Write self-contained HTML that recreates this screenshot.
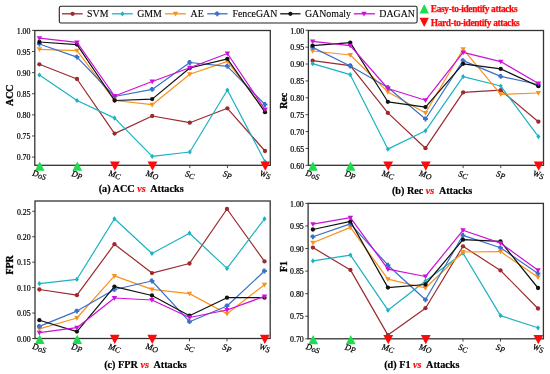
<!DOCTYPE html>
<html><head><meta charset="utf-8"><style>
html,body{margin:0;padding:0;background:#fff;width:550px;height:374px;overflow:hidden}
svg{display:block;will-change:transform}
text{font-family:"Liberation Serif", serif}
</style></head><body>
<svg width="550" height="374" viewBox="0 0 550 374">
<rect width="550" height="374" fill="#fff"/>
<line x1="32" y1="157.1" x2="34.8" y2="157.1" stroke="#333" stroke-width="0.9"/>
<text x="30.5" y="160.35" font-size="7.9" text-anchor="end" fill="#000" stroke="#000" stroke-width="0.2">0.70</text>
<line x1="32" y1="135.98" x2="34.8" y2="135.98" stroke="#333" stroke-width="0.9"/>
<text x="30.5" y="139.23" font-size="7.9" text-anchor="end" fill="#000" stroke="#000" stroke-width="0.2">0.75</text>
<line x1="32" y1="114.86" x2="34.8" y2="114.86" stroke="#333" stroke-width="0.9"/>
<text x="30.5" y="118.11" font-size="7.9" text-anchor="end" fill="#000" stroke="#000" stroke-width="0.2">0.80</text>
<line x1="32" y1="93.74" x2="34.8" y2="93.74" stroke="#333" stroke-width="0.9"/>
<text x="30.5" y="96.99" font-size="7.9" text-anchor="end" fill="#000" stroke="#000" stroke-width="0.2">0.85</text>
<line x1="32" y1="72.62" x2="34.8" y2="72.62" stroke="#333" stroke-width="0.9"/>
<text x="30.5" y="75.87" font-size="7.9" text-anchor="end" fill="#000" stroke="#000" stroke-width="0.2">0.90</text>
<line x1="32" y1="51.5" x2="34.8" y2="51.5" stroke="#333" stroke-width="0.9"/>
<text x="30.5" y="54.75" font-size="7.9" text-anchor="end" fill="#000" stroke="#000" stroke-width="0.2">0.95</text>
<line x1="32" y1="30.38" x2="34.8" y2="30.38" stroke="#333" stroke-width="0.9"/>
<text x="30.5" y="33.63" font-size="7.9" text-anchor="end" fill="#000" stroke="#000" stroke-width="0.2">1.00</text>
<line x1="39.4" y1="165.3" x2="39.4" y2="168.1" stroke="#333" stroke-width="0.9"/>
<line x1="77" y1="165.3" x2="77" y2="168.1" stroke="#333" stroke-width="0.9"/>
<line x1="114.6" y1="165.3" x2="114.6" y2="168.1" stroke="#333" stroke-width="0.9"/>
<line x1="152.2" y1="165.3" x2="152.2" y2="168.1" stroke="#333" stroke-width="0.9"/>
<line x1="189.8" y1="165.3" x2="189.8" y2="168.1" stroke="#333" stroke-width="0.9"/>
<line x1="227.4" y1="165.3" x2="227.4" y2="168.1" stroke="#333" stroke-width="0.9"/>
<line x1="265" y1="165.3" x2="265" y2="168.1" stroke="#333" stroke-width="0.9"/>
<polyline points="39.4,64.3 77,79 114.6,133.6 152.2,116 189.8,122.7 227.4,108.3 265,151" fill="none" stroke="#9c2a2e" stroke-width="1.2" stroke-linejoin="round"/>
<circle cx="39.4" cy="64.3" r="2.15" fill="#9c2a2e"/>
<circle cx="77" cy="79" r="2.15" fill="#9c2a2e"/>
<circle cx="114.6" cy="133.6" r="2.15" fill="#9c2a2e"/>
<circle cx="152.2" cy="116" r="2.15" fill="#9c2a2e"/>
<circle cx="189.8" cy="122.7" r="2.15" fill="#9c2a2e"/>
<circle cx="227.4" cy="108.3" r="2.15" fill="#9c2a2e"/>
<circle cx="265" cy="151" r="2.15" fill="#9c2a2e"/>
<polyline points="39.4,75 77,100.5 114.6,118.1 152.2,156.3 189.8,152 227.4,90 265,161.5" fill="none" stroke="#1cb2c2" stroke-width="1.2" stroke-linejoin="round"/>
<path d="M39.4 72.4L41.4 75L39.4 77.6L37.4 75Z" fill="#1cb2c2"/>
<path d="M77 97.9L79 100.5L77 103.1L75 100.5Z" fill="#1cb2c2"/>
<path d="M114.6 115.5L116.6 118.1L114.6 120.7L112.6 118.1Z" fill="#1cb2c2"/>
<path d="M152.2 153.7L154.2 156.3L152.2 158.9L150.2 156.3Z" fill="#1cb2c2"/>
<path d="M189.8 149.4L191.8 152L189.8 154.6L187.8 152Z" fill="#1cb2c2"/>
<path d="M227.4 87.4L229.4 90L227.4 92.6L225.4 90Z" fill="#1cb2c2"/>
<path d="M265 158.9L267 161.5L265 164.1L263 161.5Z" fill="#1cb2c2"/>
<polyline points="39.4,49.3 77,50.6 114.6,100.5 152.2,104.7 189.8,74.3 227.4,61.4 265,110.5" fill="none" stroke="#f8921e" stroke-width="1.2" stroke-linejoin="round"/>
<path d="M36.7 47.35L42.1 47.35L39.4 52.03Z" fill="#f8921e"/>
<path d="M74.3 48.65L79.7 48.65L77 53.33Z" fill="#f8921e"/>
<path d="M111.9 98.55L117.3 98.55L114.6 103.23Z" fill="#f8921e"/>
<path d="M149.5 102.75L154.9 102.75L152.2 107.43Z" fill="#f8921e"/>
<path d="M187.1 72.35L192.5 72.35L189.8 77.03Z" fill="#f8921e"/>
<path d="M224.7 59.45L230.1 59.45L227.4 64.13Z" fill="#f8921e"/>
<path d="M262.3 108.55L267.7 108.55L265 113.23Z" fill="#f8921e"/>
<polyline points="39.4,44 77,57.1 114.6,96.5 152.2,89.4 189.8,62.5 227.4,66.3 265,104.5" fill="none" stroke="#3a70c8" stroke-width="1.2" stroke-linejoin="round"/>
<path d="M38.4 41.6H40.4V43H41.8V45H40.4V46.4H38.4V45H37V43Z" fill="#3a70c8"/>
<path d="M76 54.7H78V56.1H79.4V58.1H78V59.5H76V58.1H74.6V56.1Z" fill="#3a70c8"/>
<path d="M113.6 94.1H115.6V95.5H117V97.5H115.6V98.9H113.6V97.5H112.2V95.5Z" fill="#3a70c8"/>
<path d="M151.2 87H153.2V88.4H154.6V90.4H153.2V91.8H151.2V90.4H149.8V88.4Z" fill="#3a70c8"/>
<path d="M188.8 60.1H190.8V61.5H192.2V63.5H190.8V64.9H188.8V63.5H187.4V61.5Z" fill="#3a70c8"/>
<path d="M226.4 63.9H228.4V65.3H229.8V67.3H228.4V68.7H226.4V67.3H225V65.3Z" fill="#3a70c8"/>
<path d="M264 102.1H266V103.5H267.4V105.5H266V106.9H264V105.5H262.6V103.5Z" fill="#3a70c8"/>
<polyline points="39.4,42 77,44.6 114.6,100.5 152.2,99.1 189.8,68 227.4,58.8 265,112.2" fill="none" stroke="#111111" stroke-width="1.2" stroke-linejoin="round"/>
<circle cx="39.4" cy="42" r="2.15" fill="#111111"/>
<circle cx="77" cy="44.6" r="2.15" fill="#111111"/>
<circle cx="114.6" cy="100.5" r="2.15" fill="#111111"/>
<circle cx="152.2" cy="99.1" r="2.15" fill="#111111"/>
<circle cx="189.8" cy="68" r="2.15" fill="#111111"/>
<circle cx="227.4" cy="58.8" r="2.15" fill="#111111"/>
<circle cx="265" cy="112.2" r="2.15" fill="#111111"/>
<polyline points="39.4,38.2 77,42.4 114.6,96 152.2,81.5 189.8,67.8 227.4,53.5 265,109.5" fill="none" stroke="#cc10d8" stroke-width="1.2" stroke-linejoin="round"/>
<path d="M36.7 36.25L42.1 36.25L39.4 40.93Z" fill="#cc10d8"/>
<path d="M74.3 40.45L79.7 40.45L77 45.13Z" fill="#cc10d8"/>
<path d="M111.9 94.05L117.3 94.05L114.6 98.73Z" fill="#cc10d8"/>
<path d="M149.5 79.55L154.9 79.55L152.2 84.23Z" fill="#cc10d8"/>
<path d="M187.1 65.85L192.5 65.85L189.8 70.53Z" fill="#cc10d8"/>
<path d="M224.7 51.55L230.1 51.55L227.4 56.23Z" fill="#cc10d8"/>
<path d="M262.3 107.55L267.7 107.55L265 112.23Z" fill="#cc10d8"/>
<rect x="34.8" y="30.5" width="235.5" height="134.8" fill="none" stroke="#333" stroke-width="1.3"/>
<path d="M39.7 161.55L44.6 170.85L34.8 170.85Z" fill="#1cdc50"/>
<path d="M77.3 161.55L82.2 170.85L72.4 170.85Z" fill="#1cdc50"/>
<path d="M110 161.55L119.8 161.55L114.9 170.85Z" fill="#ff0a0a"/>
<path d="M147.6 161.55L157.4 161.55L152.5 170.85Z" fill="#ff0a0a"/>
<path d="M260.4 161.55L270.2 161.55L265.3 170.85Z" fill="#ff0a0a"/>
<text transform="translate(38.9 177.1) rotate(13)" font-size="8.4" font-style="italic" text-anchor="middle" fill="#000" stroke="#000" stroke-width="0.2">D<tspan font-size="7.9" dy="1.2">oS</tspan></text>
<text transform="translate(76.5 177.1) rotate(13)" font-size="8.4" font-style="italic" text-anchor="middle" fill="#000" stroke="#000" stroke-width="0.2">D<tspan font-size="7.9" dy="1.2">P</tspan></text>
<text transform="translate(114.1 177.1) rotate(13)" font-size="8.4" font-style="italic" text-anchor="middle" fill="#000" stroke="#000" stroke-width="0.2">M<tspan font-size="7.9" dy="1.2">C</tspan></text>
<text transform="translate(151.7 177.1) rotate(13)" font-size="8.4" font-style="italic" text-anchor="middle" fill="#000" stroke="#000" stroke-width="0.2">M<tspan font-size="7.9" dy="1.2">O</tspan></text>
<text transform="translate(189.3 177.1) rotate(13)" font-size="8.4" font-style="italic" text-anchor="middle" fill="#000" stroke="#000" stroke-width="0.2">S<tspan font-size="7.9" dy="1.2">C</tspan></text>
<text transform="translate(226.9 177.1) rotate(13)" font-size="8.4" font-style="italic" text-anchor="middle" fill="#000" stroke="#000" stroke-width="0.2">S<tspan font-size="7.9" dy="1.2">P</tspan></text>
<text transform="translate(264.5 177.1) rotate(13)" font-size="8.4" font-style="italic" text-anchor="middle" fill="#000" stroke="#000" stroke-width="0.2">W<tspan font-size="7.9" dy="1.2">S</tspan></text>
<text transform="translate(13.2 95.2) rotate(-90)" font-size="9.9" font-weight="bold" text-anchor="middle" fill="#000" stroke="#000" stroke-width="0.3">ACC</text>
<text x="98.7" y="191.6" font-size="10.2" font-weight="bold" fill="#000" stroke="#000" stroke-width="0.2" xml:space="preserve">(a) ACC <tspan fill="#ff0a0a" stroke="#ff0a0a" font-style="italic">vs</tspan>  <tspan>Attacks</tspan></text>
<line x1="305.6" y1="165.3" x2="308.4" y2="165.3" stroke="#333" stroke-width="0.9"/>
<text x="304.1" y="168.55" font-size="7.9" text-anchor="end" fill="#000" stroke="#000" stroke-width="0.2">0.60</text>
<line x1="305.6" y1="148.43" x2="308.4" y2="148.43" stroke="#333" stroke-width="0.9"/>
<text x="304.1" y="151.68" font-size="7.9" text-anchor="end" fill="#000" stroke="#000" stroke-width="0.2">0.65</text>
<line x1="305.6" y1="131.55" x2="308.4" y2="131.55" stroke="#333" stroke-width="0.9"/>
<text x="304.1" y="134.8" font-size="7.9" text-anchor="end" fill="#000" stroke="#000" stroke-width="0.2">0.70</text>
<line x1="305.6" y1="114.68" x2="308.4" y2="114.68" stroke="#333" stroke-width="0.9"/>
<text x="304.1" y="117.93" font-size="7.9" text-anchor="end" fill="#000" stroke="#000" stroke-width="0.2">0.75</text>
<line x1="305.6" y1="97.8" x2="308.4" y2="97.8" stroke="#333" stroke-width="0.9"/>
<text x="304.1" y="101.05" font-size="7.9" text-anchor="end" fill="#000" stroke="#000" stroke-width="0.2">0.80</text>
<line x1="305.6" y1="80.93" x2="308.4" y2="80.93" stroke="#333" stroke-width="0.9"/>
<text x="304.1" y="84.18" font-size="7.9" text-anchor="end" fill="#000" stroke="#000" stroke-width="0.2">0.85</text>
<line x1="305.6" y1="64.05" x2="308.4" y2="64.05" stroke="#333" stroke-width="0.9"/>
<text x="304.1" y="67.3" font-size="7.9" text-anchor="end" fill="#000" stroke="#000" stroke-width="0.2">0.90</text>
<line x1="305.6" y1="47.18" x2="308.4" y2="47.18" stroke="#333" stroke-width="0.9"/>
<text x="304.1" y="50.43" font-size="7.9" text-anchor="end" fill="#000" stroke="#000" stroke-width="0.2">0.95</text>
<line x1="305.6" y1="30.3" x2="308.4" y2="30.3" stroke="#333" stroke-width="0.9"/>
<text x="304.1" y="33.55" font-size="7.9" text-anchor="end" fill="#000" stroke="#000" stroke-width="0.2">1.00</text>
<line x1="312.6" y1="165.3" x2="312.6" y2="168.1" stroke="#333" stroke-width="0.9"/>
<line x1="350.23" y1="165.3" x2="350.23" y2="168.1" stroke="#333" stroke-width="0.9"/>
<line x1="387.86" y1="165.3" x2="387.86" y2="168.1" stroke="#333" stroke-width="0.9"/>
<line x1="425.49" y1="165.3" x2="425.49" y2="168.1" stroke="#333" stroke-width="0.9"/>
<line x1="463.12" y1="165.3" x2="463.12" y2="168.1" stroke="#333" stroke-width="0.9"/>
<line x1="500.75" y1="165.3" x2="500.75" y2="168.1" stroke="#333" stroke-width="0.9"/>
<line x1="538.38" y1="165.3" x2="538.38" y2="168.1" stroke="#333" stroke-width="0.9"/>
<polyline points="312.6,60.7 350.23,65.7 387.86,112.9 425.49,148.2 463.12,92.4 500.75,90.2 538.38,121.7" fill="none" stroke="#9c2a2e" stroke-width="1.2" stroke-linejoin="round"/>
<circle cx="312.6" cy="60.7" r="2.15" fill="#9c2a2e"/>
<circle cx="350.23" cy="65.7" r="2.15" fill="#9c2a2e"/>
<circle cx="387.86" cy="112.9" r="2.15" fill="#9c2a2e"/>
<circle cx="425.49" cy="148.2" r="2.15" fill="#9c2a2e"/>
<circle cx="463.12" cy="92.4" r="2.15" fill="#9c2a2e"/>
<circle cx="500.75" cy="90.2" r="2.15" fill="#9c2a2e"/>
<circle cx="538.38" cy="121.7" r="2.15" fill="#9c2a2e"/>
<polyline points="312.6,63.7 350.23,74.7 387.86,149.1 425.49,130.8 463.12,76.6 500.75,86 538.38,136.6" fill="none" stroke="#1cb2c2" stroke-width="1.2" stroke-linejoin="round"/>
<path d="M312.6 61.1L314.6 63.7L312.6 66.3L310.6 63.7Z" fill="#1cb2c2"/>
<path d="M350.23 72.1L352.23 74.7L350.23 77.3L348.23 74.7Z" fill="#1cb2c2"/>
<path d="M387.86 146.5L389.86 149.1L387.86 151.7L385.86 149.1Z" fill="#1cb2c2"/>
<path d="M425.49 128.2L427.49 130.8L425.49 133.4L423.49 130.8Z" fill="#1cb2c2"/>
<path d="M463.12 74L465.12 76.6L463.12 79.2L461.12 76.6Z" fill="#1cb2c2"/>
<path d="M500.75 83.4L502.75 86L500.75 88.6L498.75 86Z" fill="#1cb2c2"/>
<path d="M538.38 134L540.38 136.6L538.38 139.2L536.38 136.6Z" fill="#1cb2c2"/>
<polyline points="312.6,51 350.23,55 387.86,91.9 425.49,113 463.12,49.2 500.75,94.3 538.38,93" fill="none" stroke="#f8921e" stroke-width="1.2" stroke-linejoin="round"/>
<path d="M309.9 49.05L315.3 49.05L312.6 53.73Z" fill="#f8921e"/>
<path d="M347.53 53.05L352.93 53.05L350.23 57.73Z" fill="#f8921e"/>
<path d="M385.16 89.95L390.56 89.95L387.86 94.63Z" fill="#f8921e"/>
<path d="M422.79 111.05L428.19 111.05L425.49 115.73Z" fill="#f8921e"/>
<path d="M460.42 47.25L465.82 47.25L463.12 51.93Z" fill="#f8921e"/>
<path d="M498.05 92.35L503.45 92.35L500.75 97.03Z" fill="#f8921e"/>
<path d="M535.68 91.05L541.08 91.05L538.38 95.73Z" fill="#f8921e"/>
<polyline points="312.6,47.4 350.23,66 387.86,87.5 425.49,119 463.12,60.6 500.75,76.4 538.38,84.5" fill="none" stroke="#3a70c8" stroke-width="1.2" stroke-linejoin="round"/>
<path d="M311.6 45H313.6V46.4H315V48.4H313.6V49.8H311.6V48.4H310.2V46.4Z" fill="#3a70c8"/>
<path d="M349.23 63.6H351.23V65H352.63V67H351.23V68.4H349.23V67H347.83V65Z" fill="#3a70c8"/>
<path d="M386.86 85.1H388.86V86.5H390.26V88.5H388.86V89.9H386.86V88.5H385.46V86.5Z" fill="#3a70c8"/>
<path d="M424.49 116.6H426.49V118H427.89V120H426.49V121.4H424.49V120H423.09V118Z" fill="#3a70c8"/>
<path d="M462.12 58.2H464.12V59.6H465.52V61.6H464.12V63H462.12V61.6H460.72V59.6Z" fill="#3a70c8"/>
<path d="M499.75 74H501.75V75.4H503.15V77.4H501.75V78.8H499.75V77.4H498.35V75.4Z" fill="#3a70c8"/>
<path d="M537.38 82.1H539.38V83.5H540.78V85.5H539.38V86.9H537.38V85.5H535.98V83.5Z" fill="#3a70c8"/>
<polyline points="312.6,45.6 350.23,42.6 387.86,101.8 425.49,107.1 463.12,63.8 500.75,68.9 538.38,86.2" fill="none" stroke="#111111" stroke-width="1.2" stroke-linejoin="round"/>
<circle cx="312.6" cy="45.6" r="2.15" fill="#111111"/>
<circle cx="350.23" cy="42.6" r="2.15" fill="#111111"/>
<circle cx="387.86" cy="101.8" r="2.15" fill="#111111"/>
<circle cx="425.49" cy="107.1" r="2.15" fill="#111111"/>
<circle cx="463.12" cy="63.8" r="2.15" fill="#111111"/>
<circle cx="500.75" cy="68.9" r="2.15" fill="#111111"/>
<circle cx="538.38" cy="86.2" r="2.15" fill="#111111"/>
<polyline points="312.6,41.4 350.23,45.6 387.86,88.5 425.49,100.3 463.12,52.4 500.75,61.6 538.38,83.4" fill="none" stroke="#cc10d8" stroke-width="1.2" stroke-linejoin="round"/>
<path d="M309.9 39.45L315.3 39.45L312.6 44.13Z" fill="#cc10d8"/>
<path d="M347.53 43.65L352.93 43.65L350.23 48.33Z" fill="#cc10d8"/>
<path d="M385.16 86.55L390.56 86.55L387.86 91.23Z" fill="#cc10d8"/>
<path d="M422.79 98.35L428.19 98.35L425.49 103.03Z" fill="#cc10d8"/>
<path d="M460.42 50.45L465.82 50.45L463.12 55.13Z" fill="#cc10d8"/>
<path d="M498.05 59.65L503.45 59.65L500.75 64.33Z" fill="#cc10d8"/>
<path d="M535.68 81.45L541.08 81.45L538.38 86.13Z" fill="#cc10d8"/>
<rect x="308.4" y="30.5" width="235.1" height="134.8" fill="none" stroke="#333" stroke-width="1.3"/>
<path d="M312.9 161.55L317.8 170.85L308 170.85Z" fill="#1cdc50"/>
<path d="M350.53 161.55L355.43 170.85L345.63 170.85Z" fill="#1cdc50"/>
<path d="M383.26 161.55L393.06 161.55L388.16 170.85Z" fill="#ff0a0a"/>
<path d="M420.89 161.55L430.69 161.55L425.79 170.85Z" fill="#ff0a0a"/>
<path d="M533.78 161.55L543.58 161.55L538.68 170.85Z" fill="#ff0a0a"/>
<text transform="translate(312.1 177.1) rotate(13)" font-size="8.4" font-style="italic" text-anchor="middle" fill="#000" stroke="#000" stroke-width="0.2">D<tspan font-size="7.9" dy="1.2">oS</tspan></text>
<text transform="translate(349.73 177.1) rotate(13)" font-size="8.4" font-style="italic" text-anchor="middle" fill="#000" stroke="#000" stroke-width="0.2">D<tspan font-size="7.9" dy="1.2">P</tspan></text>
<text transform="translate(387.36 177.1) rotate(13)" font-size="8.4" font-style="italic" text-anchor="middle" fill="#000" stroke="#000" stroke-width="0.2">M<tspan font-size="7.9" dy="1.2">C</tspan></text>
<text transform="translate(424.99 177.1) rotate(13)" font-size="8.4" font-style="italic" text-anchor="middle" fill="#000" stroke="#000" stroke-width="0.2">M<tspan font-size="7.9" dy="1.2">O</tspan></text>
<text transform="translate(462.62 177.1) rotate(13)" font-size="8.4" font-style="italic" text-anchor="middle" fill="#000" stroke="#000" stroke-width="0.2">S<tspan font-size="7.9" dy="1.2">C</tspan></text>
<text transform="translate(500.25 177.1) rotate(13)" font-size="8.4" font-style="italic" text-anchor="middle" fill="#000" stroke="#000" stroke-width="0.2">S<tspan font-size="7.9" dy="1.2">P</tspan></text>
<text transform="translate(537.88 177.1) rotate(13)" font-size="8.4" font-style="italic" text-anchor="middle" fill="#000" stroke="#000" stroke-width="0.2">W<tspan font-size="7.9" dy="1.2">S</tspan></text>
<text transform="translate(286.9 100.8) rotate(-90)" font-size="9.9" font-weight="bold" text-anchor="middle" fill="#000" stroke="#000" stroke-width="0.3">Rec</text>
<text x="391.9" y="193.5" font-size="10.2" font-weight="bold" fill="#000" stroke="#000" stroke-width="0.2" xml:space="preserve">(b) Rec <tspan fill="#ff0a0a" stroke="#ff0a0a" font-style="italic">vs</tspan>  <tspan>Attacks</tspan></text>
<line x1="32.2" y1="338.5" x2="35" y2="338.5" stroke="#333" stroke-width="0.9"/>
<text x="30.7" y="341.75" font-size="7.9" text-anchor="end" fill="#000" stroke="#000" stroke-width="0.2">0.00</text>
<line x1="32.2" y1="313.06" x2="35" y2="313.06" stroke="#333" stroke-width="0.9"/>
<text x="30.7" y="316.31" font-size="7.9" text-anchor="end" fill="#000" stroke="#000" stroke-width="0.2">0.05</text>
<line x1="32.2" y1="287.62" x2="35" y2="287.62" stroke="#333" stroke-width="0.9"/>
<text x="30.7" y="290.87" font-size="7.9" text-anchor="end" fill="#000" stroke="#000" stroke-width="0.2">0.10</text>
<line x1="32.2" y1="262.18" x2="35" y2="262.18" stroke="#333" stroke-width="0.9"/>
<text x="30.7" y="265.43" font-size="7.9" text-anchor="end" fill="#000" stroke="#000" stroke-width="0.2">0.15</text>
<line x1="32.2" y1="236.74" x2="35" y2="236.74" stroke="#333" stroke-width="0.9"/>
<text x="30.7" y="239.99" font-size="7.9" text-anchor="end" fill="#000" stroke="#000" stroke-width="0.2">0.20</text>
<line x1="32.2" y1="211.3" x2="35" y2="211.3" stroke="#333" stroke-width="0.9"/>
<text x="30.7" y="214.55" font-size="7.9" text-anchor="end" fill="#000" stroke="#000" stroke-width="0.2">0.25</text>
<line x1="39.4" y1="338.5" x2="39.4" y2="341.3" stroke="#333" stroke-width="0.9"/>
<line x1="76.92" y1="338.5" x2="76.92" y2="341.3" stroke="#333" stroke-width="0.9"/>
<line x1="114.44" y1="338.5" x2="114.44" y2="341.3" stroke="#333" stroke-width="0.9"/>
<line x1="151.96" y1="338.5" x2="151.96" y2="341.3" stroke="#333" stroke-width="0.9"/>
<line x1="189.48" y1="338.5" x2="189.48" y2="341.3" stroke="#333" stroke-width="0.9"/>
<line x1="227" y1="338.5" x2="227" y2="341.3" stroke="#333" stroke-width="0.9"/>
<line x1="264.52" y1="338.5" x2="264.52" y2="341.3" stroke="#333" stroke-width="0.9"/>
<polyline points="39.4,289.5 76.92,295.2 114.44,244.2 151.96,273.1 189.48,263.5 227,209 264.52,261.4" fill="none" stroke="#9c2a2e" stroke-width="1.2" stroke-linejoin="round"/>
<circle cx="39.4" cy="289.5" r="2.15" fill="#9c2a2e"/>
<circle cx="76.92" cy="295.2" r="2.15" fill="#9c2a2e"/>
<circle cx="114.44" cy="244.2" r="2.15" fill="#9c2a2e"/>
<circle cx="151.96" cy="273.1" r="2.15" fill="#9c2a2e"/>
<circle cx="189.48" cy="263.5" r="2.15" fill="#9c2a2e"/>
<circle cx="227" cy="209" r="2.15" fill="#9c2a2e"/>
<circle cx="264.52" cy="261.4" r="2.15" fill="#9c2a2e"/>
<polyline points="39.4,283.6 76.92,279.3 114.44,218.8 151.96,253.5 189.48,233.2 227,268.4 264.52,218.8" fill="none" stroke="#1cb2c2" stroke-width="1.2" stroke-linejoin="round"/>
<path d="M39.4 281L41.4 283.6L39.4 286.2L37.4 283.6Z" fill="#1cb2c2"/>
<path d="M76.92 276.7L78.92 279.3L76.92 281.9L74.92 279.3Z" fill="#1cb2c2"/>
<path d="M114.44 216.2L116.44 218.8L114.44 221.4L112.44 218.8Z" fill="#1cb2c2"/>
<path d="M151.96 250.9L153.96 253.5L151.96 256.1L149.96 253.5Z" fill="#1cb2c2"/>
<path d="M189.48 230.6L191.48 233.2L189.48 235.8L187.48 233.2Z" fill="#1cb2c2"/>
<path d="M227 265.8L229 268.4L227 271L225 268.4Z" fill="#1cb2c2"/>
<path d="M264.52 216.2L266.52 218.8L264.52 221.4L262.52 218.8Z" fill="#1cb2c2"/>
<polyline points="39.4,328.9 76.92,318 114.44,275.9 151.96,289.4 189.48,293.6 227,313.8 264.52,284.7" fill="none" stroke="#f8921e" stroke-width="1.2" stroke-linejoin="round"/>
<path d="M36.7 326.95L42.1 326.95L39.4 331.63Z" fill="#f8921e"/>
<path d="M74.22 316.05L79.62 316.05L76.92 320.73Z" fill="#f8921e"/>
<path d="M111.74 273.95L117.14 273.95L114.44 278.63Z" fill="#f8921e"/>
<path d="M149.26 287.45L154.66 287.45L151.96 292.13Z" fill="#f8921e"/>
<path d="M186.78 291.65L192.18 291.65L189.48 296.33Z" fill="#f8921e"/>
<path d="M224.3 311.85L229.7 311.85L227 316.53Z" fill="#f8921e"/>
<path d="M261.82 282.75L267.22 282.75L264.52 287.43Z" fill="#f8921e"/>
<polyline points="39.4,326.4 76.92,311.1 114.44,289.5 151.96,281 189.48,321.7 227,306 264.52,271" fill="none" stroke="#3a70c8" stroke-width="1.2" stroke-linejoin="round"/>
<path d="M38.4 324H40.4V325.4H41.8V327.4H40.4V328.8H38.4V327.4H37V325.4Z" fill="#3a70c8"/>
<path d="M75.92 308.7H77.92V310.1H79.32V312.1H77.92V313.5H75.92V312.1H74.52V310.1Z" fill="#3a70c8"/>
<path d="M113.44 287.1H115.44V288.5H116.84V290.5H115.44V291.9H113.44V290.5H112.04V288.5Z" fill="#3a70c8"/>
<path d="M150.96 278.6H152.96V280H154.36V282H152.96V283.4H150.96V282H149.56V280Z" fill="#3a70c8"/>
<path d="M188.48 319.3H190.48V320.7H191.88V322.7H190.48V324.1H188.48V322.7H187.08V320.7Z" fill="#3a70c8"/>
<path d="M226 303.6H228V305H229.4V307H228V308.4H226V307H224.6V305Z" fill="#3a70c8"/>
<path d="M263.52 268.6H265.52V270H266.92V272H265.52V273.4H263.52V272H262.12V270Z" fill="#3a70c8"/>
<polyline points="39.4,320.2 76.92,331.6 114.44,286.6 151.96,295.5 189.48,315.7 227,297.7 264.52,297.7" fill="none" stroke="#111111" stroke-width="1.2" stroke-linejoin="round"/>
<circle cx="39.4" cy="320.2" r="2.15" fill="#111111"/>
<circle cx="76.92" cy="331.6" r="2.15" fill="#111111"/>
<circle cx="114.44" cy="286.6" r="2.15" fill="#111111"/>
<circle cx="151.96" cy="295.5" r="2.15" fill="#111111"/>
<circle cx="189.48" cy="315.7" r="2.15" fill="#111111"/>
<circle cx="227" cy="297.7" r="2.15" fill="#111111"/>
<circle cx="264.52" cy="297.7" r="2.15" fill="#111111"/>
<polyline points="39.4,332.7 76.92,327.7 114.44,298 151.96,300 189.48,317.5 227,310 264.52,296.4" fill="none" stroke="#cc10d8" stroke-width="1.2" stroke-linejoin="round"/>
<path d="M36.7 330.75L42.1 330.75L39.4 335.43Z" fill="#cc10d8"/>
<path d="M74.22 325.75L79.62 325.75L76.92 330.43Z" fill="#cc10d8"/>
<path d="M111.74 296.05L117.14 296.05L114.44 300.73Z" fill="#cc10d8"/>
<path d="M149.26 298.05L154.66 298.05L151.96 302.73Z" fill="#cc10d8"/>
<path d="M186.78 315.55L192.18 315.55L189.48 320.23Z" fill="#cc10d8"/>
<path d="M224.3 308.05L229.7 308.05L227 312.73Z" fill="#cc10d8"/>
<path d="M261.82 294.45L267.22 294.45L264.52 299.13Z" fill="#cc10d8"/>
<rect x="35" y="201" width="235.2" height="137.5" fill="none" stroke="#333" stroke-width="1.3"/>
<path d="M39.7 334.75L44.6 344.05L34.8 344.05Z" fill="#1cdc50"/>
<path d="M77.22 334.75L82.12 344.05L72.32 344.05Z" fill="#1cdc50"/>
<path d="M109.84 334.75L119.64 334.75L114.74 344.05Z" fill="#ff0a0a"/>
<path d="M147.36 334.75L157.16 334.75L152.26 344.05Z" fill="#ff0a0a"/>
<path d="M259.92 334.75L269.72 334.75L264.82 344.05Z" fill="#ff0a0a"/>
<text transform="translate(38.9 350.3) rotate(13)" font-size="8.4" font-style="italic" text-anchor="middle" fill="#000" stroke="#000" stroke-width="0.2">D<tspan font-size="7.9" dy="1.2">oS</tspan></text>
<text transform="translate(76.42 350.3) rotate(13)" font-size="8.4" font-style="italic" text-anchor="middle" fill="#000" stroke="#000" stroke-width="0.2">D<tspan font-size="7.9" dy="1.2">P</tspan></text>
<text transform="translate(113.94 350.3) rotate(13)" font-size="8.4" font-style="italic" text-anchor="middle" fill="#000" stroke="#000" stroke-width="0.2">M<tspan font-size="7.9" dy="1.2">C</tspan></text>
<text transform="translate(151.46 350.3) rotate(13)" font-size="8.4" font-style="italic" text-anchor="middle" fill="#000" stroke="#000" stroke-width="0.2">M<tspan font-size="7.9" dy="1.2">O</tspan></text>
<text transform="translate(188.98 350.3) rotate(13)" font-size="8.4" font-style="italic" text-anchor="middle" fill="#000" stroke="#000" stroke-width="0.2">S<tspan font-size="7.9" dy="1.2">C</tspan></text>
<text transform="translate(226.5 350.3) rotate(13)" font-size="8.4" font-style="italic" text-anchor="middle" fill="#000" stroke="#000" stroke-width="0.2">S<tspan font-size="7.9" dy="1.2">P</tspan></text>
<text transform="translate(264.02 350.3) rotate(13)" font-size="8.4" font-style="italic" text-anchor="middle" fill="#000" stroke="#000" stroke-width="0.2">W<tspan font-size="7.9" dy="1.2">S</tspan></text>
<text transform="translate(12.7 265) rotate(-90)" font-size="9.9" font-weight="bold" text-anchor="middle" fill="#000" stroke="#000" stroke-width="0.3">FPR</text>
<text x="104.2" y="368.3" font-size="10.2" font-weight="bold" fill="#000" stroke="#000" stroke-width="0.2" xml:space="preserve">(c) FPR <tspan fill="#ff0a0a" stroke="#ff0a0a" font-style="italic">vs</tspan>  <tspan>Attacks</tspan></text>
<line x1="305.3" y1="338.8" x2="308.1" y2="338.8" stroke="#333" stroke-width="0.9"/>
<text x="303.8" y="342.05" font-size="7.9" text-anchor="end" fill="#000" stroke="#000" stroke-width="0.2">0.70</text>
<line x1="305.3" y1="316.23" x2="308.1" y2="316.23" stroke="#333" stroke-width="0.9"/>
<text x="303.8" y="319.48" font-size="7.9" text-anchor="end" fill="#000" stroke="#000" stroke-width="0.2">0.75</text>
<line x1="305.3" y1="293.66" x2="308.1" y2="293.66" stroke="#333" stroke-width="0.9"/>
<text x="303.8" y="296.91" font-size="7.9" text-anchor="end" fill="#000" stroke="#000" stroke-width="0.2">0.80</text>
<line x1="305.3" y1="271.09" x2="308.1" y2="271.09" stroke="#333" stroke-width="0.9"/>
<text x="303.8" y="274.34" font-size="7.9" text-anchor="end" fill="#000" stroke="#000" stroke-width="0.2">0.85</text>
<line x1="305.3" y1="248.52" x2="308.1" y2="248.52" stroke="#333" stroke-width="0.9"/>
<text x="303.8" y="251.77" font-size="7.9" text-anchor="end" fill="#000" stroke="#000" stroke-width="0.2">0.90</text>
<line x1="305.3" y1="225.95" x2="308.1" y2="225.95" stroke="#333" stroke-width="0.9"/>
<text x="303.8" y="229.2" font-size="7.9" text-anchor="end" fill="#000" stroke="#000" stroke-width="0.2">0.95</text>
<line x1="305.3" y1="203.38" x2="308.1" y2="203.38" stroke="#333" stroke-width="0.9"/>
<text x="303.8" y="206.63" font-size="7.9" text-anchor="end" fill="#000" stroke="#000" stroke-width="0.2">1.00</text>
<line x1="312.9" y1="338.8" x2="312.9" y2="341.6" stroke="#333" stroke-width="0.9"/>
<line x1="350.42" y1="338.8" x2="350.42" y2="341.6" stroke="#333" stroke-width="0.9"/>
<line x1="387.94" y1="338.8" x2="387.94" y2="341.6" stroke="#333" stroke-width="0.9"/>
<line x1="425.46" y1="338.8" x2="425.46" y2="341.6" stroke="#333" stroke-width="0.9"/>
<line x1="462.98" y1="338.8" x2="462.98" y2="341.6" stroke="#333" stroke-width="0.9"/>
<line x1="500.5" y1="338.8" x2="500.5" y2="341.6" stroke="#333" stroke-width="0.9"/>
<line x1="538.02" y1="338.8" x2="538.02" y2="341.6" stroke="#333" stroke-width="0.9"/>
<polyline points="312.9,247.6 350.42,269.9 387.94,335.1 425.46,308.2 462.98,246.3 500.5,270.4 538.02,308.5" fill="none" stroke="#9c2a2e" stroke-width="1.2" stroke-linejoin="round"/>
<circle cx="312.9" cy="247.6" r="2.15" fill="#9c2a2e"/>
<circle cx="350.42" cy="269.9" r="2.15" fill="#9c2a2e"/>
<circle cx="387.94" cy="335.1" r="2.15" fill="#9c2a2e"/>
<circle cx="425.46" cy="308.2" r="2.15" fill="#9c2a2e"/>
<circle cx="462.98" cy="246.3" r="2.15" fill="#9c2a2e"/>
<circle cx="500.5" cy="270.4" r="2.15" fill="#9c2a2e"/>
<circle cx="538.02" cy="308.5" r="2.15" fill="#9c2a2e"/>
<polyline points="312.9,260.9 350.42,255.1 387.94,310.2 425.46,281 462.98,253.1 500.5,315.6 538.02,327.8" fill="none" stroke="#1cb2c2" stroke-width="1.2" stroke-linejoin="round"/>
<path d="M312.9 258.3L314.9 260.9L312.9 263.5L310.9 260.9Z" fill="#1cb2c2"/>
<path d="M350.42 252.5L352.42 255.1L350.42 257.7L348.42 255.1Z" fill="#1cb2c2"/>
<path d="M387.94 307.6L389.94 310.2L387.94 312.8L385.94 310.2Z" fill="#1cb2c2"/>
<path d="M425.46 278.4L427.46 281L425.46 283.6L423.46 281Z" fill="#1cb2c2"/>
<path d="M462.98 250.5L464.98 253.1L462.98 255.7L460.98 253.1Z" fill="#1cb2c2"/>
<path d="M500.5 313L502.5 315.6L500.5 318.2L498.5 315.6Z" fill="#1cb2c2"/>
<path d="M538.02 325.2L540.02 327.8L538.02 330.4L536.02 327.8Z" fill="#1cb2c2"/>
<polyline points="312.9,242.7 350.42,227.4 387.94,279.2 425.46,288 462.98,252 500.5,251.6 538.02,277.3" fill="none" stroke="#f8921e" stroke-width="1.2" stroke-linejoin="round"/>
<path d="M310.2 240.75L315.6 240.75L312.9 245.43Z" fill="#f8921e"/>
<path d="M347.72 225.45L353.12 225.45L350.42 230.13Z" fill="#f8921e"/>
<path d="M385.24 277.25L390.64 277.25L387.94 281.93Z" fill="#f8921e"/>
<path d="M422.76 286.05L428.16 286.05L425.46 290.73Z" fill="#f8921e"/>
<path d="M460.28 250.05L465.68 250.05L462.98 254.73Z" fill="#f8921e"/>
<path d="M497.8 249.65L503.2 249.65L500.5 254.33Z" fill="#f8921e"/>
<path d="M535.32 275.35L540.72 275.35L538.02 280.03Z" fill="#f8921e"/>
<polyline points="312.9,236.8 350.42,223.9 387.94,265.2 425.46,299.8 462.98,235.4 500.5,247.8 538.02,273.4" fill="none" stroke="#3a70c8" stroke-width="1.2" stroke-linejoin="round"/>
<path d="M311.9 234.4H313.9V235.8H315.3V237.8H313.9V239.2H311.9V237.8H310.5V235.8Z" fill="#3a70c8"/>
<path d="M349.42 221.5H351.42V222.9H352.82V224.9H351.42V226.3H349.42V224.9H348.02V222.9Z" fill="#3a70c8"/>
<path d="M386.94 262.8H388.94V264.2H390.34V266.2H388.94V267.6H386.94V266.2H385.54V264.2Z" fill="#3a70c8"/>
<path d="M424.46 297.4H426.46V298.8H427.86V300.8H426.46V302.2H424.46V300.8H423.06V298.8Z" fill="#3a70c8"/>
<path d="M461.98 233H463.98V234.4H465.38V236.4H463.98V237.8H461.98V236.4H460.58V234.4Z" fill="#3a70c8"/>
<path d="M499.5 245.4H501.5V246.8H502.9V248.8H501.5V250.2H499.5V248.8H498.1V246.8Z" fill="#3a70c8"/>
<path d="M537.02 271H539.02V272.4H540.42V274.4H539.02V275.8H537.02V274.4H535.62V272.4Z" fill="#3a70c8"/>
<polyline points="312.9,229.5 350.42,221.4 387.94,287.6 425.46,284.5 462.98,239.7 500.5,241.4 538.02,288" fill="none" stroke="#111111" stroke-width="1.2" stroke-linejoin="round"/>
<circle cx="312.9" cy="229.5" r="2.15" fill="#111111"/>
<circle cx="350.42" cy="221.4" r="2.15" fill="#111111"/>
<circle cx="387.94" cy="287.6" r="2.15" fill="#111111"/>
<circle cx="425.46" cy="284.5" r="2.15" fill="#111111"/>
<circle cx="462.98" cy="239.7" r="2.15" fill="#111111"/>
<circle cx="500.5" cy="241.4" r="2.15" fill="#111111"/>
<circle cx="538.02" cy="288" r="2.15" fill="#111111"/>
<polyline points="312.9,224.1 350.42,217.7 387.94,269.2 425.46,276.5 462.98,230.3 500.5,243.1 538.02,270.2" fill="none" stroke="#cc10d8" stroke-width="1.2" stroke-linejoin="round"/>
<path d="M310.2 222.15L315.6 222.15L312.9 226.83Z" fill="#cc10d8"/>
<path d="M347.72 215.75L353.12 215.75L350.42 220.43Z" fill="#cc10d8"/>
<path d="M385.24 267.25L390.64 267.25L387.94 271.93Z" fill="#cc10d8"/>
<path d="M422.76 274.55L428.16 274.55L425.46 279.23Z" fill="#cc10d8"/>
<path d="M460.28 228.35L465.68 228.35L462.98 233.03Z" fill="#cc10d8"/>
<path d="M497.8 241.15L503.2 241.15L500.5 245.83Z" fill="#cc10d8"/>
<path d="M535.32 268.25L540.72 268.25L538.02 272.93Z" fill="#cc10d8"/>
<rect x="308.1" y="203.4" width="235.3" height="135.4" fill="none" stroke="#333" stroke-width="1.3"/>
<path d="M313.2 335.05L318.1 344.35L308.3 344.35Z" fill="#1cdc50"/>
<path d="M350.72 335.05L355.62 344.35L345.82 344.35Z" fill="#1cdc50"/>
<path d="M383.34 335.05L393.14 335.05L388.24 344.35Z" fill="#ff0a0a"/>
<path d="M420.86 335.05L430.66 335.05L425.76 344.35Z" fill="#ff0a0a"/>
<path d="M533.42 335.05L543.22 335.05L538.32 344.35Z" fill="#ff0a0a"/>
<text transform="translate(312.4 350.6) rotate(13)" font-size="8.4" font-style="italic" text-anchor="middle" fill="#000" stroke="#000" stroke-width="0.2">D<tspan font-size="7.9" dy="1.2">oS</tspan></text>
<text transform="translate(349.92 350.6) rotate(13)" font-size="8.4" font-style="italic" text-anchor="middle" fill="#000" stroke="#000" stroke-width="0.2">D<tspan font-size="7.9" dy="1.2">P</tspan></text>
<text transform="translate(387.44 350.6) rotate(13)" font-size="8.4" font-style="italic" text-anchor="middle" fill="#000" stroke="#000" stroke-width="0.2">M<tspan font-size="7.9" dy="1.2">C</tspan></text>
<text transform="translate(424.96 350.6) rotate(13)" font-size="8.4" font-style="italic" text-anchor="middle" fill="#000" stroke="#000" stroke-width="0.2">M<tspan font-size="7.9" dy="1.2">O</tspan></text>
<text transform="translate(462.48 350.6) rotate(13)" font-size="8.4" font-style="italic" text-anchor="middle" fill="#000" stroke="#000" stroke-width="0.2">S<tspan font-size="7.9" dy="1.2">C</tspan></text>
<text transform="translate(500 350.6) rotate(13)" font-size="8.4" font-style="italic" text-anchor="middle" fill="#000" stroke="#000" stroke-width="0.2">S<tspan font-size="7.9" dy="1.2">P</tspan></text>
<text transform="translate(537.52 350.6) rotate(13)" font-size="8.4" font-style="italic" text-anchor="middle" fill="#000" stroke="#000" stroke-width="0.2">W<tspan font-size="7.9" dy="1.2">S</tspan></text>
<text transform="translate(287.3 266.6) rotate(-90)" font-size="9.9" font-weight="bold" text-anchor="middle" fill="#000" stroke="#000" stroke-width="0.3">F1</text>
<text x="384.2" y="368.3" font-size="10.2" font-weight="bold" fill="#000" stroke="#000" stroke-width="0.2" xml:space="preserve">(d) F1 <tspan fill="#ff0a0a" stroke="#ff0a0a" font-style="italic">vs</tspan>  <tspan>Attacks</tspan></text>
<rect x="59.3" y="6.2" width="357.8" height="16.8" rx="1.8" fill="#fff" stroke="#222" stroke-width="1.1"/>
<line x1="62" y1="13.8" x2="82.7" y2="13.8" stroke="#9c2a2e" stroke-width="1.3"/>
<circle cx="72.6" cy="13.8" r="2.15" fill="#9c2a2e"/>
<text x="87.1" y="17.4" font-size="9.9" fill="#000" stroke="#000" stroke-width="0.1">SVM</text>
<line x1="112.1" y1="13.8" x2="132.8" y2="13.8" stroke="#1cb2c2" stroke-width="1.3"/>
<path d="M122.4 11.2L124.4 13.8L122.4 16.4L120.4 13.8Z" fill="#1cb2c2"/>
<text x="137.2" y="17.4" font-size="9.9" fill="#000" stroke="#000" stroke-width="0.1">GMM</text>
<line x1="164.9" y1="13.8" x2="185.8" y2="13.8" stroke="#f8921e" stroke-width="1.3"/>
<path d="M172.9 11.85L178.3 11.85L175.6 16.53Z" fill="#f8921e"/>
<text x="190.5" y="17.4" font-size="9.9" fill="#000" stroke="#000" stroke-width="0.1">AE</text>
<line x1="207.3" y1="13.8" x2="227.6" y2="13.8" stroke="#3a70c8" stroke-width="1.3"/>
<path d="M216.3 11.4H218.3V12.8H219.7V14.8H218.3V16.2H216.3V14.8H214.9V12.8Z" fill="#3a70c8"/>
<text x="232.4" y="17.4" font-size="9.9" fill="#000" stroke="#000" stroke-width="0.1">FenceGAN</text>
<line x1="280.2" y1="13.8" x2="300.5" y2="13.8" stroke="#111111" stroke-width="1.3"/>
<circle cx="290.4" cy="13.8" r="2.15" fill="#111111"/>
<text x="304.9" y="17.4" font-size="9.9" fill="#000" stroke="#000" stroke-width="0.1">GANomaly</text>
<line x1="353.8" y1="13.8" x2="374.9" y2="13.8" stroke="#cc10d8" stroke-width="1.3"/>
<path d="M361.3 11.85L366.7 11.85L364 16.53Z" fill="#cc10d8"/>
<text x="379.3" y="17.4" font-size="9.9" fill="#000" stroke="#000" stroke-width="0.1">DAGAN</text>
<path d="M424.2 4.1L428.9 13.4L419.5 13.4Z" fill="#1cdc50"/>
<path d="M419.5 17.7L428.9 17.7L424.2 26.9Z" fill="#ff0a0a"/>
<text x="430.8" y="12.4" font-size="9.4" font-weight="bold" letter-spacing="-0.36" stroke="#ff0a0a" stroke-width="0.25" fill="#ff0a0a">Easy-to-identify attacks</text>
<text x="430.8" y="25.5" font-size="9.4" font-weight="bold" letter-spacing="-0.36" stroke="#ff0a0a" stroke-width="0.25" fill="#ff0a0a">Hard-to-identify attacks</text>
</svg>
</body></html>
